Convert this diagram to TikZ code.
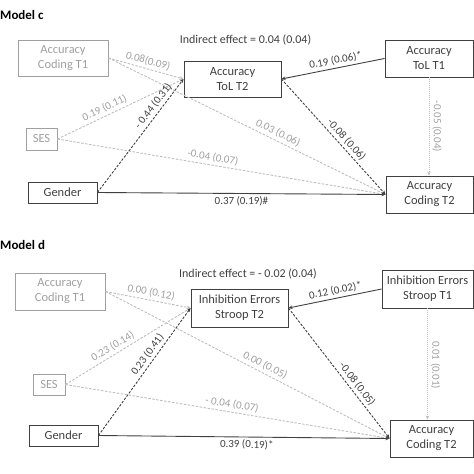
\documentclass[tikz,border=0pt]{standalone}
\usepackage{fontspec}
\setmainfont{Carlito}
\usetikzlibrary{arrows.meta,positioning}
\definecolor{ink}{RGB}{64,64,64}
\definecolor{faint}{RGB}{160,160,160}
\definecolor{faintline}{RGB}{190,190,190}
\tikzset{
  >={Stealth[length=4bp,width=3.5bp]},
  var/.style={draw=#1,text=#1,line width=0.9bp,align=center,inner sep=1bp,
    font=\fontsize{12.5}{15}\selectfont},
  var/.default=ink,
  title/.style={font=\fontsize{13}{15}\selectfont\bfseries,anchor=west,inner sep=0pt},
  indirect/.style={font=\fontsize{12}{14}\selectfont,text=ink,inner sep=0pt},
  % paths
  sig/.style={->,draw=ink,line width=0.9bp},
  nsdark/.style={->,draw=ink,line width=0.9bp,dash pattern=on 2.5bp off 1.5bp},
  ns/.style={->,draw=faintline,line width=0.9bp,dash pattern=on 2.5bp off 1.5bp},
  nsdot/.style={->,draw=faintline,line width=0.9bp,dash pattern=on 1bp off 1bp},
  coef/.style={font=\fontsize{11}{13}\selectfont,text=#1,sloped,inner sep=2.5bp},
  coef/.default=faint,
  vcoef/.style={font=\fontsize{11}{13}\selectfont,text=#1,rotate=-90,anchor=south,inner sep=3bp},
  vcoef/.default=faint,
}

\begin{document}
\begin{tikzpicture}[x=1bp,y=-1bp]
  \useasboundingbox (0,0) rectangle (474,474);

  \node[title] (titlec) at (0,15) {Model c};
  \node[indirect] (indc) at (245.5,40) {Indirect effect = 0.04 (0.04)};
  \node[var=faint,minimum width=90bp,minimum height=36bp] (codT1c) at (63,58) {Accuracy\\Coding T1};
  \node[var,minimum width=97bp,minimum height=36bp] (tolT2) at (232.5,79) {Accuracy\\ToL T2};
  \node[var,minimum width=88bp,minimum height=37bp] (tolT1) at (429,58.5) {Accuracy\\ToL T1};
  \node[var=faint,minimum width=31bp,minimum height=22bp] (sesc) at (41.5,139) {SES};
  \node[var,minimum width=69bp,minimum height=21bp] (genc) at (62.5,192.5) {Gender};
  \node[var,minimum width=87bp,minimum height=37bp] (codT2c) at (429.5,194.5) {Accuracy\\Coding T2};

  \draw[ns] (codT1c.east) -- node[coef,pos=0.5,above] {0.08(0.09)} (tolT2.west);
  \draw[ns] (codT1c.east) -- node[coef,pos=0.6,above] {0.03 (0.06)} (codT2c.west);
  \draw[ns] (sesc.east) -- node[coef,pos=0.4,above] {0.19 (0.11)} (tolT2.west);
  \draw[ns] (sesc.east) -- node[coef,pos=0.47,above] {-0.04 (0.07)} (codT2c.west);
  \draw[nsdark] (genc.east) -- node[coef=ink,pos=0.72,above] {- 0.44 (0.31)} (tolT2.west);
  \draw[sig] (genc.east) -- node[coef=ink,pos=0.5,below] {0.37 (0.19)\#} (codT2c.west);
  \draw[sig] (tolT1.west) -- node[coef=ink,pos=0.46,above] {0.19 (0.06)*} (tolT2.east);
  \draw[nsdark] (tolT2.east) -- node[coef=ink,pos=0.57,above] {-0.08 (0.06)} (codT2c.west);
  \draw[nsdot] (tolT1.south) -- node[vcoef,pos=0.5] {-0.05 (0.04)} (tolT1.south |- codT2c.north);

  \node[title] (titled) at (0,245) {Model d};
  \node[indirect] (indd) at (248,274) {Indirect effect = - 0.02 (0.04)};
  \node[var=faint,minimum width=90bp,minimum height=37bp] (codT1d) at (60,291.5) {Accuracy\\Coding T1};
  \node[var,minimum width=97bp,minimum height=38bp] (isT2) at (239.5,308) {Inhibition Errors\\Stroop T2};
  \node[var,minimum width=91bp,minimum height=38bp] (isT1) at (427.5,289) {Inhibition Errors\\Stroop T1};
  \node[var=faint,minimum width=32bp,minimum height=21bp] (sesd) at (49,384.5) {SES};
  \node[var,minimum width=69bp,minimum height=21bp] (gend) at (63.5,435.5) {Gender};
  \node[var,minimum width=83bp,minimum height=37bp] (codT2d) at (431.5,438.5) {Accuracy\\Coding T2};

  \draw[ns] (codT1d.east) -- node[coef,pos=0.52,above] {0.00 (0.12)} (isT2.west);
  \draw[ns] (codT1d.east) -- node[coef,pos=0.55,above] {0.00 (0.05)} (codT2d.west);
  \draw[ns] (sesd.east) -- node[coef,pos=0.41,above] {0.23 (0.14)} (isT2.west);
  \draw[ns] (sesd.east) -- node[coef,pos=0.51,above] {- 0.04 (0.07)} (codT2d.west);
  \draw[nsdark] (gend.east) -- node[coef=ink,pos=0.6,above] {0.23 (0.41)} (isT2.west);
  \draw[sig] (gend.east) -- node[coef=ink,pos=0.51,below] {0.39 (0.19)*} (codT2d.west);
  \draw[sig] (isT1.west) -- node[coef=ink,pos=0.48,above] {0.12 (0.02)*} (isT2.east);
  \draw[nsdark] (isT2.east) -- node[coef=ink,pos=0.62,above] {-0.08 (0.05)} (codT2d.west);
  \draw[nsdot] (isT1.south) -- node[vcoef,pos=0.51] {0.01 (0.01)} (isT1.south |- codT2d.north);
\end{tikzpicture}
\end{document}
